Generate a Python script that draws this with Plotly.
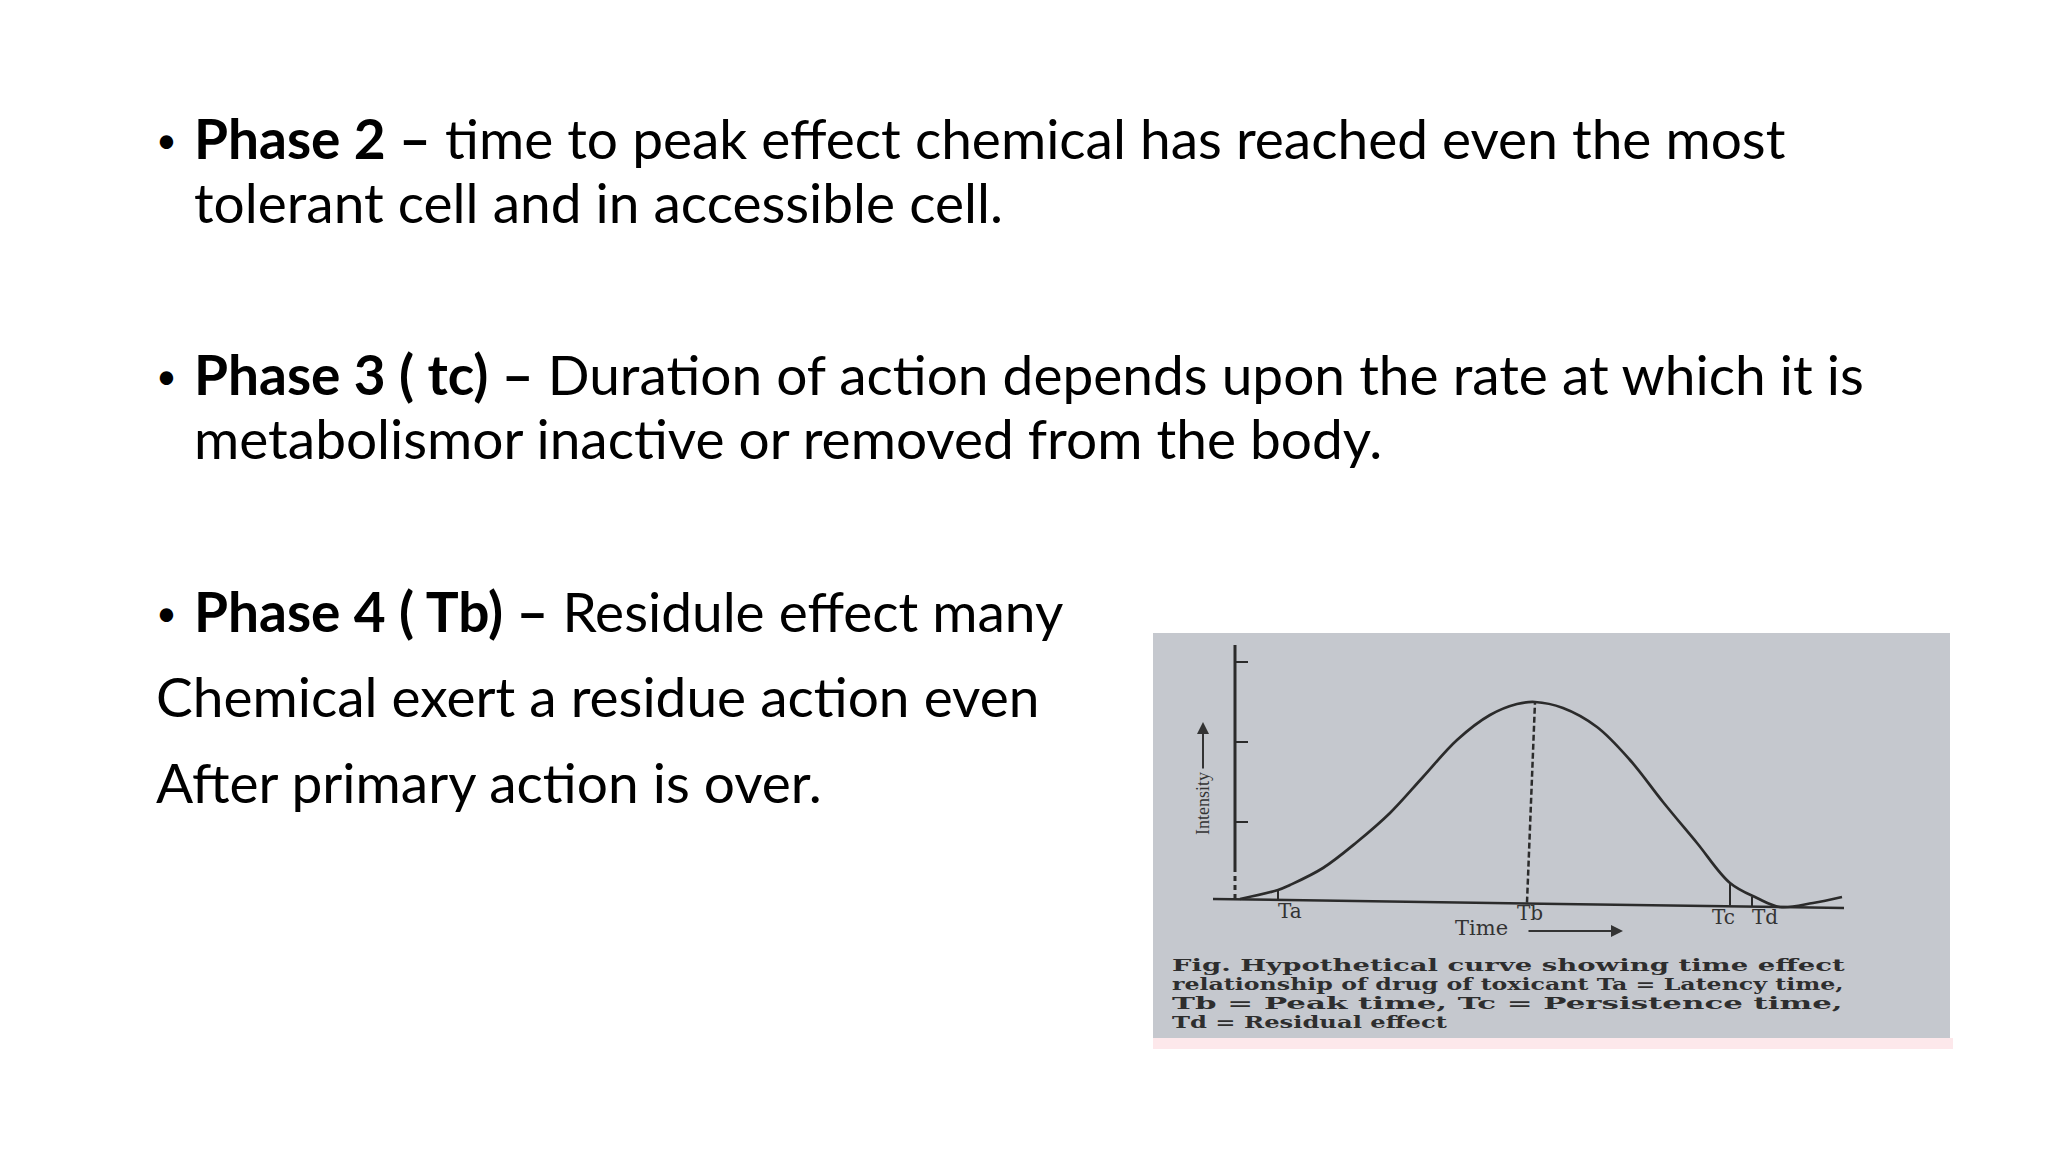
import json
import plotly.graph_objects as go

W, H = 2048, 1152

# ---- slide text (lines, baseline px, has bullet) ----
bullet_lines = [
    ("<b>Phase 2 –</b> time to peak effect chemical has reached even the most", 159, True),
    ("tolerant cell and in accessible cell.", 223, False),
    ("<b>Phase 3 ( tc) –</b> Duration of action depends upon the rate at which it is", 395, True),
    ("metabolismor inactive or removed from the body.", 459, False),
    ("<b>Phase 4 ( Tb) –</b> Residule effect many", 632, True),
]
plain_lines = [
    ("Chemical exert a residue action even", 717),
    ("After primary action is over.", 803),
]

# ---- figure data: time (arb. units) vs intensity ----
curve_t = [0.5, 4.3, 5.5, 8.8, 12.2, 15.5, 18.8, 22.2, 25.5, 28.2, 30.0,
           32.8, 36.2, 39.5, 42.8, 46.2, 49.5, 52.2, 54.5, 57.8, 60.7]
curve_i = [1.5, 6.0, 8.5, 17.0, 30.0, 44.5, 62.5, 81.0, 93.5, 99.0, 100.0,
           97.0, 87.5, 71.0, 50.0, 29.5, 9.5, 2.0, -2.5, -0.5, 2.5]

base_t = [-2.2, 60.9]
base_i = [1.5, -3.0]
yaxis_top = 128.5
yaxis_dash_top = 17.5
ytick_vals = [40, 80, 120]
ytick_len = 1.3

mark_names = ["Ta", "Tc", "Td"]
mark_t = [4.3, 49.5, 51.7]
mark_base = [1.0, -1.7, -2.0]
mark_top = [6.0, 9.5, 2.5]

tb_t = [29.2, 30.0]
tb_i = [-0.3, 100.0]

label_names = ["Ta", "Tb", "Tc", "Td"]
label_t = [5.5, 29.5, 48.8, 53.0]
label_i = [-4.5, -5.5, -7.5, -7.5]

caption_lines = [
    "Fig. Hypothetical curve showing time effect",
    "relationship of drug of toxicant Ta = Latency time,",
    "Tb = Peak time, Tc = Persistence time,",
    "Td = Residual effect",
]
caption_mid = [-31.5, -41, -50.5, -60]
caption_width = [674, 672, 671, 276]   # printed width of each line, px

# panel placement on the slide (px)
panel = dict(x0=1153, x1=1950, y0=633, y1=1038)
t_per_px, i_per_px = 0.1, 0.5
t_at_px = lambda px: (px - 1235) * t_per_px
i_at_px = lambda py: (902 - py) * i_per_px

ink = "#2b2b2b"
fig = go.Figure()

fig.add_trace(go.Scatter(x=base_t, y=base_i, mode="lines",
                         line=dict(color=ink, width=2.5)))
fig.add_trace(go.Scatter(x=[0, 0], y=[yaxis_dash_top, yaxis_top], mode="lines",
                         line=dict(color=ink, width=3)))
fig.add_trace(go.Scatter(x=[0, 0], y=[base_i[0], yaxis_dash_top], mode="lines",
                         line=dict(color=ink, width=3, dash="5px,4px")))
for v in ytick_vals:
    fig.add_trace(go.Scatter(x=[0, ytick_len], y=[v, v], mode="lines",
                             line=dict(color=ink, width=2)))
fig.add_trace(go.Scatter(x=curve_t, y=curve_i, mode="lines",
                         line=dict(color=ink, width=2.7, shape="spline", smoothing=1.0)))
for t, b, top in zip(mark_t, mark_base, mark_top):
    fig.add_trace(go.Scatter(x=[t, t], y=[b, top], mode="lines",
                             line=dict(color=ink, width=2)))
fig.add_trace(go.Scatter(x=tb_t, y=tb_i, mode="lines",
                         line=dict(color=ink, width=2.5, dash="6px,3px")))

lab_font = dict(family="DejaVu Serif", size=20, color="#333333")
for name, t, i in zip(label_names, label_t, label_i):
    fig.add_annotation(x=t, y=i, xref="x", yref="y", text=name, showarrow=False,
                       font=lab_font)
fig.add_annotation(x=24.6, y=-13, xref="x", yref="y", text="Time", showarrow=False,
                   font=dict(family="DejaVu Serif", size=21, color="#333333"))
fig.add_annotation(x=38.8, y=-14.5, ax=29.2, ay=-14.5, xref="x", yref="y",
                   axref="x", ayref="y", text="", showarrow=True, arrowhead=2,
                   arrowsize=1.2, arrowwidth=2, arrowcolor="#333333")
fig.add_annotation(x=-3.2, y=49, xref="x", yref="y", text="Intensity", showarrow=False,
                   textangle=-90, font=dict(family="Liberation Serif", size=18, color="#333333"))
fig.add_annotation(x=-3.2, y=90, ax=-3.2, ay=66, xref="x", yref="y",
                   axref="x", ayref="y", text="", showarrow=True, arrowhead=2,
                   arrowsize=1.2, arrowwidth=2, arrowcolor="#333333")

for txt, m in zip(caption_lines, caption_mid):
    fig.add_annotation(x=t_at_px(1170), y=m, xref="x", yref="y", text="<b>" + txt + "</b>",
                       showarrow=False, xanchor="left", yanchor="middle", align="left",
                       font=dict(family="DejaVu Serif", size=16, color="#2e2e2e"))

# slide text
fs = 55
def px(x):
    return x / W
def py(y):
    return 1 - y / H
for txt, base, bullet in bullet_lines:
    fig.add_annotation(x=px(192), y=py(base - 0.39 * fs), xref="paper", yref="paper",
                       text=txt, showarrow=False, xanchor="left", yanchor="middle",
                       font=dict(family="Lato", size=fs, color="black"))
    if bullet:
        fig.add_annotation(x=px(166), y=py(base - 20), xref="paper", yref="paper",
                           text="•", showarrow=False, xanchor="center", yanchor="middle",
                           font=dict(family="Lato", size=36, color="black"))
for txt, base in plain_lines:
    fig.add_annotation(x=px(154), y=py(base - 0.39 * fs), xref="paper", yref="paper",
                       text=txt, showarrow=False, xanchor="left", yanchor="middle",
                       font=dict(family="Lato", size=fs, color="black"))

# pink strip under the photo
fig.add_shape(type="rect", xref="paper", yref="paper",
              x0=px(panel["x0"]), x1=px(panel["x1"] + 3), y0=py(panel["y1"] + 11), y1=py(panel["y1"]),
              fillcolor="#fde8eb", line=dict(width=0), layer="below")

fig.update_layout(
    width=W, height=H, autosize=False,
    margin=dict(l=0, r=0, t=0, b=0),
    paper_bgcolor="white",
    plot_bgcolor="#c5c8ce",
    showlegend=False,
    xaxis=dict(domain=[px(panel["x0"]), px(panel["x1"])],
               range=[t_at_px(panel["x0"]), t_at_px(panel["x1"])],
               visible=False, fixedrange=True),
    yaxis=dict(domain=[py(panel["y1"]), py(panel["y0"])],
               range=[i_at_px(panel["y1"]), i_at_px(panel["y0"])],
               visible=False, fixedrange=True),
)

# no page margin, and stretch the printed caption lines sideways (the photo is stretched)
widths = json.dumps(dict(zip(caption_lines, caption_width)))
post = """
document.body.style.margin = '0';
document.body.style.overflow = 'hidden';
var widths = %s;
document.querySelectorAll('.annotation-text').forEach(function (el) {
    var w = widths[el.textContent];
    if (w) {
        var b = el.getBBox();
        var s = w / b.width;
        el.setAttribute('transform', 'matrix(' + s + ',0,0,1,' + (b.x * (1 - s)) + ',0)');
    }
});
""" % widths

fig.write_html("out.html", config={"displayModeBar": False}, post_script=post)
